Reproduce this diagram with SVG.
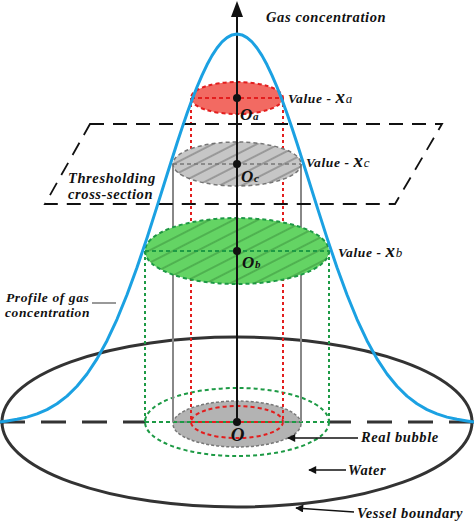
<svg xmlns="http://www.w3.org/2000/svg" width="474" height="523" viewBox="0 0 474 523">
<style>
.lbl{font-family:"Liberation Serif","Times New Roman",serif;font-weight:bold;font-style:italic;fill:#111;letter-spacing:0.6px;}
.sub{font-family:"Liberation Serif","Times New Roman",serif;font-style:italic;font-weight:normal;letter-spacing:0;}
.blk{stroke:#111;stroke-width:1.3;fill:none;}
</style>
<defs>
<pattern id="hatch" patternUnits="userSpaceOnUse" width="10" height="10" patternTransform="rotate(-27)">
<line x1="0" y1="5" x2="10" y2="5" stroke="#555" stroke-width="0.8"/>
</pattern>
<pattern id="hatchG" patternUnits="userSpaceOnUse" width="10" height="11" patternTransform="rotate(-27)">
<line x1="0" y1="5" x2="10" y2="5" stroke="#2e7d32" stroke-width="0.8"/>
</pattern>
<marker id="ah" viewBox="0 0 10 10" refX="9" refY="5" markerWidth="10" markerHeight="8" markerUnits="userSpaceOnUse" orient="auto">
<path d="M0,0 L10,5 L0,10 z" fill="#111"/>
</marker>
</defs>
<rect width="474" height="523" fill="#fff"/>

<g id="vessel">
<ellipse cx="237" cy="422" rx="235" ry="85" fill="none" stroke="#333" stroke-width="3"/>
</g>

<g id="connectors">
<line x1="0" y1="422" x2="145" y2="422" stroke="#333" stroke-width="3" stroke-dasharray="25 16"/>
<line x1="474" y1="422" x2="329" y2="422" stroke="#333" stroke-width="3" stroke-dasharray="25 16"/>
</g>

<g id="bottom-sections">
<ellipse cx="237" cy="424" rx="64" ry="23" fill="#b3b3b3" stroke="#777" stroke-width="1.5" stroke-dasharray="3 2"/>
<ellipse cx="237" cy="422" rx="92" ry="34" fill="none" stroke="#1d9a45" stroke-width="2" stroke-dasharray="4 3"/>
<ellipse cx="237" cy="422" rx="46" ry="16" fill="none" stroke="#e31e1e" stroke-width="2" stroke-dasharray="4 3"/>
<line x1="173" y1="422" x2="301" y2="422" stroke="#777" stroke-width="1.5"/>
<line x1="145" y1="422" x2="329" y2="422" stroke="#1d9a45" stroke-width="2" stroke-dasharray="4 3"/>
<line x1="191" y1="422" x2="283" y2="422" stroke="#e31e1e" stroke-width="2" stroke-dasharray="4 3"/>
</g>

<g id="verticals">
<line x1="173" y1="164" x2="173" y2="422" stroke="#888" stroke-width="2"/>
<line x1="301" y1="164" x2="301" y2="422" stroke="#888" stroke-width="2"/>
<line x1="145" y1="251" x2="145" y2="422" stroke="#1d9a45" stroke-width="2" stroke-dasharray="3 3"/>
<line x1="329" y1="251" x2="329" y2="422" stroke="#1d9a45" stroke-width="2" stroke-dasharray="3 3"/>
<line x1="191" y1="98" x2="191" y2="422" stroke="#e31e1e" stroke-width="2" stroke-dasharray="3 3"/>
<line x1="283" y1="98" x2="283" y2="422" stroke="#e31e1e" stroke-width="2" stroke-dasharray="3 3"/>
</g>

<g id="threshold-plane">
<polygon points="90,124 442,124 395,204 45,204" fill="none" stroke="#111" stroke-width="1.8" stroke-dasharray="14 9"/>
</g>

<g id="section-c">
<ellipse cx="237" cy="164" rx="64" ry="22" fill="#c6c6c6" stroke="#777" stroke-width="1.5" stroke-dasharray="4 3"/>
<ellipse cx="237" cy="164" rx="64" ry="22" fill="url(#hatch)"/>
<line x1="173" y1="164" x2="301" y2="164" stroke="#777" stroke-width="1.5" stroke-dasharray="4 3"/>
</g>

<g id="section-b">
<ellipse cx="237" cy="251" rx="92" ry="33" fill="#64d464" stroke="#1d9a45" stroke-width="2" stroke-dasharray="4 3"/>
<ellipse cx="237" cy="251" rx="92" ry="33" fill="url(#hatchG)"/>
<line x1="145" y1="251" x2="329" y2="251" stroke="#1d9a45" stroke-width="2" stroke-dasharray="4 3"/>
</g>

<g id="section-a">
<ellipse cx="237" cy="98" rx="46" ry="16" fill="#f26a62" stroke="#e31e1e" stroke-width="2" stroke-dasharray="4 3"/>
<line x1="191" y1="98" x2="283" y2="98" stroke="#e31e1e" stroke-width="2" stroke-dasharray="4 3"/>
</g>

<g id="axis">
<line x1="237" y1="422" x2="237" y2="15" stroke="#111" stroke-width="2"/>
<polygon points="237,1 231,17 243,17" fill="#111"/>
<circle cx="237" cy="98" r="4" fill="#111"/>
<circle cx="237" cy="164" r="4" fill="#111"/>
<circle cx="237" cy="251" r="4" fill="#111"/>
<circle cx="237" cy="422" r="4" fill="#111"/>
</g>

<g id="profile-curve">
<polyline fill="none" stroke="#1ba1e2" stroke-width="3" stroke-linejoin="round" points="0,422 7,420.9 17,419.3 27,417.1 37,413.9 47,409.6 57,403.8 67,396.1 77,386.3 87,374 97,358.9 107,340.7 117,319.3 127,294.8 137,267.5 147,237.9 157,206.6 167,174.7 177,143.2 182,128.1 187,113.6 192,99.8 197,87 202,75.3 207,64.8 212,55.6 217,48 222,41.9 227,37.6 232,34.9 237,34 242,34.9 247,37.6 252,41.9 257,48 262,55.6 267,64.8 272,75.3 277,87 282,99.8 287,113.6 292,128.1 297,143.2 307,174.7 317,206.6 327,237.9 337,267.5 347,294.8 357,319.3 367,340.7 377,358.9 387,374 397,386.3 407,396.1 417,403.8 427,409.6 437,413.9 447,417.1 457,419.3 467,420.9 474,422"/>
</g>

<g id="labels">
<text class="lbl" x="266" y="22" font-size="14.5">Gas concentration</text>
<text class="lbl" x="288" y="103" font-size="13.5">Value - <tspan font-size="19">x</tspan><tspan class="sub" font-size="13">a</tspan></text>
<text class="lbl" x="306" y="167" font-size="13.5">Value - <tspan font-size="19">x</tspan><tspan class="sub" font-size="13">c</tspan></text>
<text class="lbl" x="338" y="257" font-size="13.5">Value - <tspan font-size="19">x</tspan><tspan class="sub" font-size="13">b</tspan></text>
<text class="lbl" x="240" y="120" font-size="17">O<tspan font-size="11">a</tspan></text>
<text class="lbl" x="241" y="182" font-size="17">O<tspan font-size="11">c</tspan></text>
<text class="lbl" x="242" y="268" font-size="17">O<tspan font-size="11">b</tspan></text>
<text class="lbl" x="238" y="441" font-size="19" text-anchor="middle">O</text>
<text class="lbl" x="68" y="183" font-size="14.5">Thresholding</text>
<text class="lbl" x="68" y="199" font-size="14.5">cross-section</text>
<text class="lbl" x="6" y="302" font-size="13.5">Profile of gas</text>
<text class="lbl" x="5" y="317" font-size="13.5">concentration</text>
<line x1="92" y1="303" x2="116" y2="303" stroke="#555" stroke-width="1.2"/>
<text class="lbl" x="361" y="442" font-size="14.5">Real bubble</text>
<line class="blk" x1="358" y1="438" x2="288" y2="438" marker-end="url(#ah)"/>
<text class="lbl" x="348" y="475" font-size="14.5">Water</text>
<line class="blk" x1="346" y1="470" x2="309" y2="470" marker-end="url(#ah)"/>
<text class="lbl" x="357" y="518" font-size="14.5">Vessel boundary</text>
<line class="blk" x1="354" y1="512" x2="296" y2="508" marker-end="url(#ah)"/>
</g>
</svg>
